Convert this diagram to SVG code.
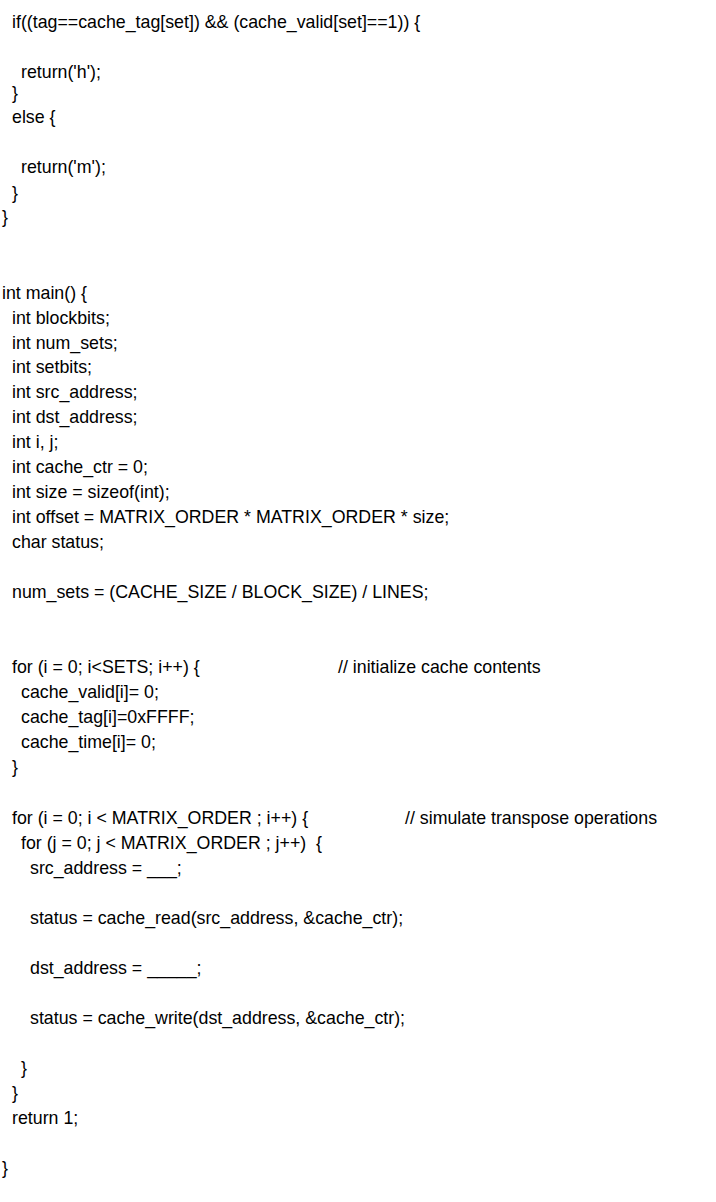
<svg xmlns="http://www.w3.org/2000/svg" width="716" height="1202" viewBox="0 0 716 1202">
<style>text{font-family:"Liberation Sans",Arial,sans-serif;font-size:17.8px;fill:#000}</style>
<rect width="716" height="1202" fill="#fff"/>
<g id="code">
<text x="12" y="28">if((tag==cache_tag[set]) &amp;&amp; (cache_valid[set]==1)) {</text>
<text x="21" y="78">return('h');</text>
<text x="12" y="99">}</text>
<text x="12" y="123">else {</text>
<text x="21" y="173">return('m');</text>
<text x="12" y="199">}</text>
<text x="2" y="223">}</text>
<text x="2" y="299">int main() {</text>
<text x="12" y="324">int blockbits;</text>
<text x="12" y="349">int num_sets;</text>
<text x="12" y="373">int setbits;</text>
<text x="12" y="398">int src_address;</text>
<text x="12" y="423">int dst_address;</text>
<text x="12" y="448">int i, j;</text>
<text x="12" y="473">int cache_ctr = 0;</text>
<text x="12" y="498">int size = sizeof(int);</text>
<text x="12" y="523">int offset = MATRIX_ORDER * MATRIX_ORDER * size;</text>
<text x="12" y="548">char status;</text>
<text x="12" y="598">num_sets = (CACHE_SIZE / BLOCK_SIZE) / LINES;</text>
<text x="12" y="673">for (i = 0; i&lt;SETS; i++) {</text>
<text x="338" y="673">// initialize cache contents</text>
<text x="21" y="698">cache_valid[i]= 0;</text>
<text x="21" y="723">cache_tag[i]=0xFFFF;</text>
<text x="21" y="748">cache_time[i]= 0;</text>
<text x="12" y="773">}</text>
<text x="12" y="824">for (i = 0; i &lt; MATRIX_ORDER ; i++) {</text>
<text x="405" y="824">// simulate transpose operations</text>
<text x="21" y="849" xml:space="preserve">for (j = 0; j &lt; MATRIX_ORDER ; j++)  {</text>
<text x="30" y="874">src_address = ___;</text>
<text x="30" y="924">status = cache_read(src_address, &amp;cache_ctr);</text>
<text x="30" y="974">dst_address = _____;</text>
<text x="30" y="1024">status = cache_write(dst_address, &amp;cache_ctr);</text>
<text x="21" y="1074">}</text>
<text x="12" y="1099">}</text>
<text x="12" y="1124">return 1;</text>
<text x="2" y="1174">}</text>
</g>
</svg>
